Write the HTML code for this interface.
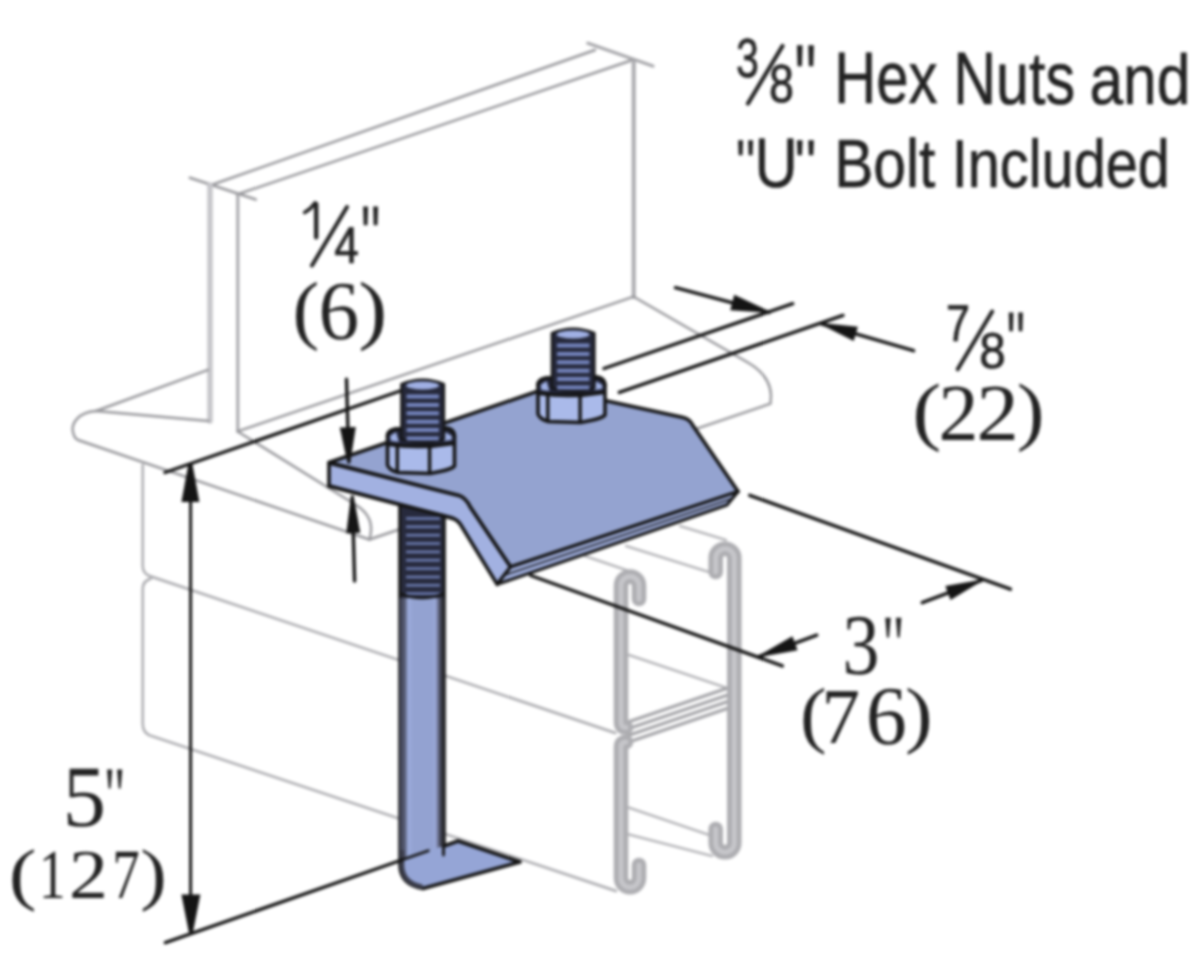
<!DOCTYPE html>
<html><head><meta charset="utf-8"><style>
html,body{margin:0;padding:0;background:#fff;}
svg{display:block;filter:blur(1.4px);}
text{font-kerning:none;text-rendering:geometricPrecision;-webkit-font-smoothing:antialiased;}
</style></head><body>
<svg width="1200" height="953" viewBox="0 0 1200 953">
<rect width="1200" height="953" fill="#fff"/>
<line x1="208.5" y1="186" x2="595" y2="50" stroke="#96969a" stroke-width="2.5" stroke-linecap="round" />
<line x1="237" y1="194.5" x2="631" y2="60.5" stroke="#96969a" stroke-width="2.4" stroke-linecap="round" />
<line x1="189.8" y1="177.8" x2="255.8" y2="199.5" stroke="#96969a" stroke-width="2.5" stroke-linecap="round" />
<line x1="587.7" y1="43.2" x2="653.1" y2="66.1" stroke="#a0a0a4" stroke-width="3" stroke-linecap="round" />
<line x1="210" y1="185" x2="210" y2="421" stroke="#c6c6ca" stroke-width="5.5" stroke-linecap="round" stroke-linecap="butt"/>
<line x1="237.8" y1="195" x2="237.8" y2="431" stroke="#a6a6aa" stroke-width="3" stroke-linecap="round" stroke-linecap="butt"/>
<line x1="633.7" y1="62" x2="633.7" y2="297" stroke="#aaaaae" stroke-width="4" stroke-linecap="round" stroke-linecap="butt"/>
<line x1="96" y1="411" x2="208" y2="369.9" stroke="#96969a" stroke-width="2.4" stroke-linecap="round" />
<line x1="96" y1="411" x2="208.6" y2="421" stroke="#96969a" stroke-width="2.4" stroke-linecap="round" />
<path d="M96 411 C78 412 71 424 73 432 Q74 438 78 440 L369.4 539.5" stroke="#96969a" stroke-width="2.4" fill="none" stroke-linecap="round" stroke-linejoin="round" />
<path d="M237.6 431.4 L356.8 505.5 Q376 518 369.4 539.5" stroke="#96969a" stroke-width="2.4" fill="none" stroke-linecap="round" stroke-linejoin="round" />
<line x1="237.6" y1="431.4" x2="633.7" y2="296.7" stroke="#96969a" stroke-width="2.4" stroke-linecap="round" />
<path d="M633.7 296.7 L747 362 Q770 375 771 395 L770.5 403.7 L369.4 539.5" stroke="#96969a" stroke-width="2.4" fill="none" stroke-linecap="round" stroke-linejoin="round" />
<path d="M142.7 465 L142.7 566 Q142.7 574 151 576.5 L615.4 733" stroke="#a8a8ac" stroke-width="2.4" fill="none" stroke-linecap="round" stroke-linejoin="round" />
<path d="M151 578.5 Q142.7 581 142.7 589 L142.7 724 Q142.7 734 152.7 736.3 L616 891" stroke="#a8a8ac" stroke-width="2.4" fill="none" stroke-linecap="round" stroke-linejoin="round" />
<line x1="629" y1="655" x2="727" y2="688" stroke="#a8a8ac" stroke-width="2.2" stroke-linecap="round" />
<line x1="627" y1="807" x2="718" y2="838" stroke="#a8a8ac" stroke-width="2.2" stroke-linecap="round" />
<line x1="627" y1="834" x2="712" y2="856" stroke="#a8a8ac" stroke-width="2.2" stroke-linecap="round" />
<line x1="585" y1="556" x2="632" y2="572" stroke="#a8a8ac" stroke-width="2.2" stroke-linecap="round" />
<line x1="626" y1="546" x2="712" y2="573" stroke="#a8a8ac" stroke-width="2.2" stroke-linecap="round" />
<line x1="680" y1="526" x2="726" y2="540" stroke="#a8a8ac" stroke-width="2.2" stroke-linecap="round" />
<path d="M623 723.7 L733 686.3" stroke="#a2a2a6" stroke-width="3.2" fill="none" stroke-linecap="round" stroke-linejoin="round" />
<path d="M623 730.6 L733 693.2" stroke="#a2a2a6" stroke-width="3.2" fill="none" stroke-linecap="round" stroke-linejoin="round" />
<path d="M623 737.2 L733 699.8" stroke="#a2a2a6" stroke-width="3.2" fill="none" stroke-linecap="round" stroke-linejoin="round" />
<path d="M623 743.9 L733 706.5" stroke="#a2a2a6" stroke-width="3.2" fill="none" stroke-linecap="round" stroke-linejoin="round" />
<path d="M639 599 L639 585.5 A9 9 0 0 0 621 585.5 L621 722 Q621 728 626 727.5" stroke="#adadb1" stroke-width="14.5" fill="none" stroke-linecap="round" stroke-linejoin="round" />
<path d="M639 599 L639 585.5 A9 9 0 0 0 621 585.5 L621 722 Q621 728 626 727.5" stroke="#c6c6ca" stroke-width="5" fill="none" stroke-linecap="round" stroke-linejoin="round" />
<path d="M715.7 572 L715.7 558 A9.3 9.3 0 0 1 734.3 558 L734.3 843 A9.3 9.3 0 0 1 715.7 843 L715.7 829" stroke="#adadb1" stroke-width="14.5" fill="none" stroke-linecap="round" stroke-linejoin="round" />
<path d="M715.7 572 L715.7 558 A9.3 9.3 0 0 1 734.3 558 L734.3 843 A9.3 9.3 0 0 1 715.7 843 L715.7 829" stroke="#c6c6ca" stroke-width="5" fill="none" stroke-linecap="round" stroke-linejoin="round" />
<path d="M626 742 Q621 742 621 747 L621 878.3 A9 9 0 0 0 639 878.3 L639 865" stroke="#adadb1" stroke-width="14.5" fill="none" stroke-linecap="round" stroke-linejoin="round" />
<path d="M626 742 Q621 742 621 747 L621 878.3 A9 9 0 0 0 639 878.3 L639 865" stroke="#c6c6ca" stroke-width="5" fill="none" stroke-linecap="round" stroke-linejoin="round" />
<line x1="165" y1="472.5" x2="400" y2="391" stroke="#141414" stroke-width="3.4" stroke-linecap="round" />
<line x1="604" y1="368.5" x2="792.7" y2="303.7" stroke="#141414" stroke-width="3.4" stroke-linecap="round" />
<line x1="619.3" y1="392.4" x2="843" y2="315.4" stroke="#141414" stroke-width="3.4" stroke-linecap="round" />
<path d="M329 462.5 L547 388 L682.2 417.2 Q690 419 692.7 425.3 L738.1 491.6 L510.6 567 L470.3 507.2 Q466 498 458.5 495.4 Z" stroke="#141414" stroke-width="3.6" fill="#94a3d0" stroke-linecap="round" stroke-linejoin="round" />
<path d="M329 463 L329 486 L451.8 518.1 Q457 519.5 460.2 524 L497.2 584.4 L510.6 567 L470.3 507.2 Q466 498 458.5 495.4 Z" stroke="#141414" stroke-width="3.6" fill="#a2b1e1" stroke-linecap="round" stroke-linejoin="round" />
<path d="M510.6 567 L738.1 491.6 L727 505 L497.2 584.4 Z" stroke="#141414" stroke-width="3.1" fill="#a2b1e1" stroke-linecap="round" stroke-linejoin="round" />
<line x1="505" y1="575" x2="732" y2="498.5" stroke="#141414" stroke-width="1.6" stroke-linecap="round" />
<defs><linearGradient id="rodg" gradientUnits="userSpaceOnUse" x1="399" y1="0" x2="444.5" y2="0"><stop offset="0" stop-color="#3e4050"/><stop offset="0.13" stop-color="#555a72"/><stop offset="0.2" stop-color="#9eaedf"/><stop offset="0.3" stop-color="#93a2d1"/><stop offset="0.74" stop-color="#93a2d1"/><stop offset="0.8" stop-color="#9ba9d9"/><stop offset="0.86" stop-color="#6a7090"/><stop offset="0.93" stop-color="#35363f"/><stop offset="1" stop-color="#2a2a32"/></linearGradient></defs>
<path d="M400 505 L400 866 Q401 885 423 888.5 L520 862 L458 841 L444 846 L444 516 Z" stroke="#141414" stroke-width="3.6" fill="#95a5d6" stroke-linecap="round" stroke-linejoin="round" />
<path d="M399.5 598 L444 598 L444 846 L420 853 L399.5 860 Z" fill="url(#rodg)"/>
<path d="M402 852 L402 867 Q403.5 883 421 886.5" stroke="#3a3c4a" stroke-width="4.5" fill="none" stroke-linecap="round" stroke-linejoin="round" />
<line x1="401.7" y1="860" x2="428.3" y2="850.8" stroke="#141414" stroke-width="2.8" stroke-linecap="round" />
<line x1="443.5" y1="846" x2="443.5" y2="855" stroke="#141414" stroke-width="2.8" stroke-linecap="round" />
<polygon points="401.5,504 442.5,515 442.5,598 401.5,598" fill="#272a3d"/>
<rect x="406" y="517.3" width="34" height="2.4" fill="#7383bb"/>
<rect x="406" y="525.6" width="34" height="2.4" fill="#7383bb"/>
<rect x="406" y="534.0" width="34" height="2.4" fill="#7383bb"/>
<rect x="406" y="542.3" width="34" height="2.4" fill="#7383bb"/>
<rect x="406" y="550.7" width="34" height="2.4" fill="#7383bb"/>
<rect x="406" y="559.0" width="34" height="2.4" fill="#7383bb"/>
<rect x="406" y="567.4" width="34" height="2.4" fill="#7383bb"/>
<rect x="406" y="575.8" width="34" height="2.4" fill="#7383bb"/>
<rect x="406" y="584.1" width="34" height="2.4" fill="#7383bb"/>
<rect x="406" y="592.4" width="34" height="2.4" fill="#7383bb"/>
<path d="M401.5 594 Q422 602 442.5 594" stroke="#141414" stroke-width="2.5" fill="none" stroke-linecap="round" stroke-linejoin="round" />
<path d="M329 486 L451.8 518.1" stroke="#141414" stroke-width="3.6" fill="none" stroke-linecap="round" stroke-linejoin="round" />
<g transform="translate(0,0)">
<path d="M387.5 436 Q388 430 396 429 L446 428 Q454 429 454.5 436 L454.5 466 Q452 469 440 471.5 L430 473.5 L398 472.5 Q389 470 387.5 465 Z" stroke="#141414" stroke-width="3.6" fill="#aabaea" stroke-linecap="round" stroke-linejoin="round" />
<path d="M388 436 Q389 430 396 429.5 L446 428.5 Q453.5 429.5 454 436 L454 443.5 Q421 449 388 444.5 Z" stroke="none" stroke-width="0" fill="#23263a" stroke-linecap="round" stroke-linejoin="round" />
<path d="M390 436 L396 432 L399 442 L391 441 Z" stroke="none" stroke-width="0" fill="#9fb0e4" stroke-linecap="round" stroke-linejoin="round" />
<path d="M445 432 L452 436 L451.5 440 L444 441 Z" stroke="none" stroke-width="0" fill="#9fb0e4" stroke-linecap="round" stroke-linejoin="round" />
<path d="M387.5 436 Q388 430 396 429 L446 428 Q454 429 454.5 436" stroke="#141414" stroke-width="3.6" fill="none" stroke-linecap="round" stroke-linejoin="round" />
<path d="M389 444.5 Q421 449 453 443.5" stroke="#141414" stroke-width="3.4" fill="none" stroke-linecap="round" stroke-linejoin="round" />
<line x1="397.3" y1="446" x2="397.3" y2="472" stroke="#141414" stroke-width="3.4" stroke-linecap="round" />
<line x1="429.6" y1="447" x2="429.6" y2="473" stroke="#141414" stroke-width="3.4" stroke-linecap="round" />
<path d="M401.3 384 L401.3 439 Q422.6 446 444 439 L444 384 Q422.6 375 401.3 384 Z" stroke="#141414" stroke-width="2.2" fill="#25283a" stroke-linecap="round" stroke-linejoin="round" />
<rect x="406.5" y="394.5" width="32.5" height="4" rx="1" fill="#7686c0"/>
<rect x="406.5" y="402.9" width="32.5" height="4" rx="1" fill="#7686c0"/>
<rect x="406.5" y="411.3" width="32.5" height="4" rx="1" fill="#7686c0"/>
<rect x="406.5" y="419.7" width="32.5" height="4" rx="1" fill="#7686c0"/>
<rect x="406.5" y="428.1" width="32.5" height="4" rx="1" fill="#7686c0"/>
<rect x="406.5" y="436.5" width="32.5" height="4" rx="1" fill="#7686c0"/>
<ellipse cx="422.6" cy="385.5" rx="16.5" ry="4" fill="#a0b0e4"/>
</g>
<g transform="translate(150.5,-51)">
<path d="M387.5 436 Q388 430 396 429 L446 428 Q454 429 454.5 436 L454.5 466 Q452 469 440 471.5 L430 473.5 L398 472.5 Q389 470 387.5 465 Z" stroke="#141414" stroke-width="3.6" fill="#aabaea" stroke-linecap="round" stroke-linejoin="round" />
<path d="M388 436 Q389 430 396 429.5 L446 428.5 Q453.5 429.5 454 436 L454 443.5 Q421 449 388 444.5 Z" stroke="none" stroke-width="0" fill="#23263a" stroke-linecap="round" stroke-linejoin="round" />
<path d="M390 436 L396 432 L399 442 L391 441 Z" stroke="none" stroke-width="0" fill="#9fb0e4" stroke-linecap="round" stroke-linejoin="round" />
<path d="M445 432 L452 436 L451.5 440 L444 441 Z" stroke="none" stroke-width="0" fill="#9fb0e4" stroke-linecap="round" stroke-linejoin="round" />
<path d="M387.5 436 Q388 430 396 429 L446 428 Q454 429 454.5 436" stroke="#141414" stroke-width="3.6" fill="none" stroke-linecap="round" stroke-linejoin="round" />
<path d="M389 444.5 Q421 449 453 443.5" stroke="#141414" stroke-width="3.4" fill="none" stroke-linecap="round" stroke-linejoin="round" />
<line x1="397.3" y1="446" x2="397.3" y2="472" stroke="#141414" stroke-width="3.4" stroke-linecap="round" />
<line x1="429.6" y1="447" x2="429.6" y2="473" stroke="#141414" stroke-width="3.4" stroke-linecap="round" />
<path d="M401.3 384 L401.3 439 Q422.6 446 444 439 L444 384 Q422.6 375 401.3 384 Z" stroke="#141414" stroke-width="2.2" fill="#25283a" stroke-linecap="round" stroke-linejoin="round" />
<rect x="406.5" y="394.5" width="32.5" height="4" rx="1" fill="#7686c0"/>
<rect x="406.5" y="402.9" width="32.5" height="4" rx="1" fill="#7686c0"/>
<rect x="406.5" y="411.3" width="32.5" height="4" rx="1" fill="#7686c0"/>
<rect x="406.5" y="419.7" width="32.5" height="4" rx="1" fill="#7686c0"/>
<rect x="406.5" y="428.1" width="32.5" height="4" rx="1" fill="#7686c0"/>
<rect x="406.5" y="436.5" width="32.5" height="4" rx="1" fill="#7686c0"/>
<ellipse cx="422.6" cy="385.5" rx="16.5" ry="4" fill="#a0b0e4"/>
</g>
<line x1="190.6" y1="470" x2="190.6" y2="928" stroke="#141414" stroke-width="3" stroke-linecap="round" />
<polygon points="188.4,464.0 181.4,502.0 199.4,502.0 192.4,464.0" fill="#141414"/>
<polygon points="192.9,932.5 200.4,894.5 181.4,894.5 188.9,932.5" fill="#141414"/>
<line x1="165.4" y1="942.6" x2="401.7" y2="860" stroke="#141414" stroke-width="3.4" stroke-linecap="round" />
<line x1="346.5" y1="379.2" x2="348.8" y2="462" stroke="#141414" stroke-width="3.4" stroke-linecap="round" />
<polygon points="350.3,462.2 355.8,427.0 339.8,427.4 347.3,462.2" fill="#141414"/>
<line x1="352.3" y1="497" x2="354.6" y2="581" stroke="#141414" stroke-width="3.4" stroke-linecap="round" />
<polygon points="350.8,497.0 346.3,533.2 360.3,532.8 353.8,497.0" fill="#141414"/>
<line x1="675.5" y1="287.7" x2="769" y2="312.5" stroke="#141414" stroke-width="3.4" stroke-linecap="round" />
<polygon points="769.2,311.2 734.2,294.7 730.2,310.2 768.8,312.8" fill="#141414"/>
<line x1="821.2" y1="323.8" x2="913.6" y2="350.7" stroke="#141414" stroke-width="3.4" stroke-linecap="round" />
<polygon points="821.0,324.6 853.7,341.1 857.9,326.7 821.4,323.0" fill="#141414"/>
<line x1="749.7" y1="495.3" x2="1010.4" y2="589.2" stroke="#141414" stroke-width="3.4" stroke-linecap="round" />
<line x1="530.7" y1="575.5" x2="782.3" y2="665.9" stroke="#141414" stroke-width="3.4" stroke-linecap="round" />
<line x1="922.2" y1="602.7" x2="981.6" y2="580.4" stroke="#141414" stroke-width="3.4" stroke-linecap="round" />
<polygon points="981.3,579.7 945.3,586.0 950.5,600.1 981.9,581.1" fill="#141414"/>
<line x1="816.8" y1="635.2" x2="759.3" y2="656.3" stroke="#141414" stroke-width="3.4" stroke-linecap="round" />
<polygon points="759.6,657.1 797.6,650.3 792.4,636.2 759.0,655.5" fill="#141414"/>
<text transform="translate(735.93,76.96) scale(0.7467,1)" font-size="55.08" font-family='"Liberation Sans", sans-serif' fill="#222" stroke="#222" stroke-width="0.7">3</text>
<line x1="748" y1="103.5" x2="782.5" y2="46" stroke="#222" stroke-width="4.2" stroke-linecap="round" />
<text transform="translate(769.06,102.48) scale(0.8338,1)" font-size="53.67" font-family='"Liberation Sans", sans-serif' fill="#222" stroke="#222" stroke-width="0.7">8</text>
<text transform="translate(794.33,111.79) scale(0.6485,1)" font-size="97.08" font-family='"Liberation Sans", sans-serif' fill="#222" >&quot;</text>
<text transform="translate(834.23,103.29) scale(0.7955,1)" font-size="73.09" font-family='"Liberation Sans", sans-serif' fill="#222" stroke="#222" stroke-width="0.6">Hex</text>
<text transform="translate(953.13,103.58) scale(0.7993,1)" font-size="74.24" font-family='"Liberation Sans", sans-serif' fill="#222" stroke="#222" stroke-width="0.6">Nuts</text>
<text transform="translate(1089.43,103.61) scale(0.8580,1)" font-size="70.54" font-family='"Liberation Sans", sans-serif' fill="#222" stroke="#222" stroke-width="0.6">and</text>
<text transform="translate(735.64,187.71) scale(0.8011,1)" font-size="69.35" font-family='"Liberation Sans", sans-serif' fill="#222" >&quot;</text>
<text transform="translate(754.38,187.31) scale(0.8526,1)" font-size="70.23" font-family='"Liberation Sans", sans-serif' fill="#222" stroke="#222" stroke-width="0.6">U</text>
<text transform="translate(794.33,187.71) scale(0.9079,1)" font-size="69.35" font-family='"Liberation Sans", sans-serif' fill="#222" >&quot;</text>
<text transform="translate(834.18,187.34) scale(0.8630,1)" font-size="68.09" font-family='"Liberation Sans", sans-serif' fill="#222" stroke="#222" stroke-width="0.6">Bolt</text>
<text transform="translate(951.67,186.84) scale(0.8568,1)" font-size="67.40" font-family='"Liberation Sans", sans-serif' fill="#222" stroke="#222" stroke-width="0.6">Included</text>
<path d="M316.2 204 L316.2 237.3" stroke="#222" stroke-width="4.4" fill="none" stroke-linecap="round" stroke-linejoin="round" />
<path d="M304.6 212.5 Q311 209 315 203" stroke="#222" stroke-width="3.6" fill="none" stroke-linecap="round" stroke-linejoin="round" />
<line x1="312" y1="265.5" x2="347" y2="207" stroke="#222" stroke-width="4" stroke-linecap="round" />
<text transform="translate(334.28,263.00) scale(0.8552,1)" font-size="51.75" font-family='"Liberation Sans", sans-serif' fill="#222" stroke="#222" stroke-width="0.7">4</text>
<text transform="translate(360.64,266.48) scale(0.6426,1)" font-size="86.45" font-family='"Liberation Sans", sans-serif' fill="#222" >&quot;</text>
<text transform="translate(292.48,335.06) scale(1.0449,1)" font-size="76.76" font-family='"Liberation Serif", serif' fill="#222" >(</text>
<text transform="translate(318.51,338.98) scale(0.9710,1)" font-size="83.65" font-family='"Liberation Serif", serif' fill="#222" >6</text>
<text transform="translate(358.19,335.06) scale(1.1362,1)" font-size="76.76" font-family='"Liberation Serif", serif' fill="#222" >)</text>
<text transform="translate(945.99,340.80) scale(0.8332,1)" font-size="51.75" font-family='"Liberation Sans", sans-serif' fill="#222" stroke="#222" stroke-width="0.7">7</text>
<line x1="957.7" y1="369.3" x2="992.2" y2="311.5" stroke="#222" stroke-width="4" stroke-linecap="round" />
<text transform="translate(979.13,368.01) scale(0.9425,1)" font-size="50.42" font-family='"Liberation Sans", sans-serif' fill="#222" stroke="#222" stroke-width="0.7">8</text>
<text transform="translate(1006.57,371.78) scale(0.6083,1)" font-size="86.45" font-family='"Liberation Sans", sans-serif' fill="#222" >&quot;</text>
<text transform="translate(912.17,436.17) scale(1.1511,1)" font-size="75.77" font-family='"Liberation Serif", serif' fill="#222" >(</text>
<text transform="translate(938.49,439.80) scale(0.9879,1)" font-size="80.80" font-family='"Liberation Serif", serif' fill="#222" >2</text>
<text transform="translate(976.58,439.80) scale(1.0466,1)" font-size="80.80" font-family='"Liberation Serif", serif' fill="#222" >2</text>
<text transform="translate(1016.80,436.17) scale(1.1049,1)" font-size="75.77" font-family='"Liberation Serif", serif' fill="#222" >)</text>
<text transform="translate(842.47,673.66) scale(0.8553,1)" font-size="86.33" font-family='"Liberation Serif", serif' fill="#222" >3</text>
<text transform="translate(881.69,673.20) scale(0.6720,1)" font-size="84.30" font-family='"Liberation Serif", serif' fill="#222" >&quot;</text>
<text transform="translate(799.89,739.49) scale(1.0818,1)" font-size="73.78" font-family='"Liberation Serif", serif' fill="#222" >(</text>
<text transform="translate(821.53,742.70) scale(0.9750,1)" font-size="78.96" font-family='"Liberation Serif", serif' fill="#222" >7</text>
<text transform="translate(865.90,743.68) scale(0.9738,1)" font-size="83.65" font-family='"Liberation Serif", serif' fill="#222" >6</text>
<text transform="translate(905.01,739.49) scale(1.1293,1)" font-size="73.78" font-family='"Liberation Serif", serif' fill="#222" >)</text>
<text transform="translate(62.78,825.85) scale(0.9898,1)" font-size="87.28" font-family='"Liberation Serif", serif' fill="#222" >5</text>
<text transform="translate(103.68,822.01) scale(0.6682,1)" font-size="80.05" font-family='"Liberation Serif", serif' fill="#222" >&quot;</text>
<text transform="translate(8.84,896.83) scale(1.2088,1)" font-size="68.93" font-family='"Liberation Serif", serif' fill="#222" >(</text>
<text transform="translate(39.03,898.00) scale(0.7574,1)" font-size="70.13" font-family='"Liberation Serif", serif' fill="#222" >1</text>
<text transform="translate(68.88,898.00) scale(1.1130,1)" font-size="69.93" font-family='"Liberation Serif", serif' fill="#222" >2</text>
<text transform="translate(112.37,898.00) scale(0.7782,1)" font-size="70.71" font-family='"Liberation Serif", serif' fill="#222" >7</text>
<text transform="translate(140.13,896.83) scale(1.1580,1)" font-size="68.93" font-family='"Liberation Serif", serif' fill="#222" >)</text>
</svg>
</body></html>
